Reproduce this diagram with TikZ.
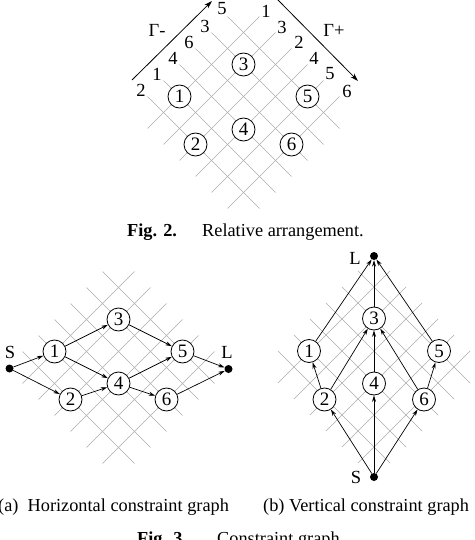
\documentclass[tikz,border=0pt]{standalone}
\usepackage{fontspec}
\setmainfont{Liberation Serif}
\usetikzlibrary{arrows.meta}
\newcommand\mylattice{%
  \foreach \k in {0,...,5}{%
    \draw[gridline] (147.5+16*\k,96.5-16*\k) -- (259.5+16*\k,208.5-16*\k);
    \draw[gridline] (259.5+16*\k,16.5+16*\k) -- (147.5+16*\k,128.5+16*\k);
  }}
\begin{document}
\begin{tikzpicture}[x=1pt,y=-1pt,
  mod/.style={circle,draw,line width=0.8pt,fill=white,inner sep=0pt,minimum size=23pt,font=\fontsize{19}{19}\selectfont},
  lab/.style={inner sep=0pt,font=\fontsize{18.5}{18.5}\selectfont},
  captxt/.style={inner sep=0pt,anchor=base west,font=\fontsize{18.3}{20}\selectfont},
  capbold/.style={inner sep=0pt,anchor=base west,font=\fontsize{18.3}{20}\selectfont\bfseries},
  dot/.style={circle,fill=black,inner sep=0pt,minimum size=8pt},
  gridline/.style={black!32,line width=0.45pt},
  edge/.style={line width=0.7pt,-{Stealth[length=6.5pt,width=4pt]}},
  seq/.style={line width=0.8pt,-{Stealth[length=8pt,width=5pt]}}]
\useasboundingbox (0,0) rectangle (474,540);
\fill[white] (0,0) rectangle (474,540);

% ---------- Fig. 2 ----------
\mylattice
\node[mod] (t1) at (179.5,96.5) {1};
\node[mod] (t2) at (195.5,144.5) {2};
\node[mod] (t3) at (243.5,64.5) {3};
\node[mod] (t4) at (243.5,129.5) {4};
\node[mod] (t5) at (307.5,96.5) {5};
\node[mod] (t6) at (291.5,144.5) {6};
% Gamma- labels
\node[lab] (gm1) at (141,90) {2};
\node[lab] (gm2) at (157,74) {1};
\node[lab] (gm3) at (173,58) {4};
\node[lab] (gm4) at (189,42) {6};
\node[lab] (gm5) at (205,26) {3};
\node[lab] (gm6) at (222,9) {5};
% Gamma+ labels
\node[lab] (gp1) at (266,11) {1};
\node[lab] (gp2) at (282,27) {3};
\node[lab] (gp3) at (299,42) {2};
\node[lab] (gp4) at (314,58) {4};
\node[lab] (gp5) at (330,74) {5};
\node[lab] (gp6) at (347,91) {6};
\node[lab] (gmt) at (157,30) {Γ-};
\node[lab] (gpt) at (334,30) {Γ+};
\coordinate (gms) at (132,80);
\coordinate (gme) at (212,1);
\coordinate (gps) at (277,-1);
\coordinate (gpe) at (358,81);
\draw[seq] (gms) -- (gme);
\draw[seq] (gps) -- (gpe);
\node[capbold] (f2a) at (127,236) {Fig. 2.};
\node[captxt] (f2b) at (202,236) {Relative arrangement.};

% ---------- Fig. 3 (a) ----------
\begin{scope}[shift={(-125,255)}]
\mylattice
\end{scope}
\node[mod] (h1) at (54.5,351.5) {1};
\node[mod] (h2) at (70.5,399.5) {2};
\node[mod] (h3) at (118.5,319.5) {3};
\node[mod] (h4) at (118.5,383.5) {4};
\node[mod] (h5) at (182.5,351.5) {5};
\node[mod] (h6) at (166.5,399.5) {6};
\node[dot] (hS) at (9.5,368.5) {};
\node[dot] (hL) at (228.5,369) {};
\node[lab] (hSl) at (10,352) {S};
\node[lab] (hLl) at (227,352) {L};
\draw[edge] (hS) -- (h1);
\draw[edge] (hS) -- (h2);
\draw[edge] (h1) -- (h3);
\draw[edge] (h1) -- (h4);
\draw[edge] (h2) -- (h4);
\draw[edge] (h3) -- (h5);
\draw[edge] (h4) -- (h5);
\draw[edge] (h4) -- (h6);
\draw[edge] (h5) -- (hL);
\draw[edge] (h6) -- (hL);

% ---------- Fig. 3 (b) ----------
\begin{scope}[shift={(130.5,254.5)}]
\mylattice
\end{scope}
\node[mod] (v1) at (309,351) {1};
\node[mod] (v2) at (324.5,399.5) {2};
\node[mod] (v3) at (374,318.5) {3};
\node[mod] (v4) at (374,383.5) {4};
\node[mod] (v5) at (439,351) {5};
\node[mod] (v6) at (424,399.5) {6};
\node[dot] (vL) at (374,256) {};
\node[dot] (vS) at (374,477) {};
\node[lab] (vLl) at (355,258) {L};
\node[lab] (vSl) at (356,477) {S};
\draw[edge] (vS) -- (v2);
\draw[edge] (vS) -- (v4);
\draw[edge] (vS) -- (v6);
\draw[edge] (v2) -- (v1);
\draw[edge] (v2) -- (v3);
\draw[edge] (v4) -- (v3);
\draw[edge] (v6) -- (v3);
\draw[edge] (v6) -- (v5);
\draw[edge] (v1) -- (vL);
\draw[edge] (v3) -- (vL);
\draw[edge] (v5) -- (vL);

% captions
\node[captxt] (ca) at (-2,511) {(a)\ \ Horizontal constraint graph};
\node[captxt] (cb) at (263,511) {(b) Vertical constraint graph};
\node[capbold] (f3a) at (137,544) {Fig. 3.};
\node[captxt] (f3b) at (217,544) {Constraint graph.};
\end{tikzpicture}
\end{document}
